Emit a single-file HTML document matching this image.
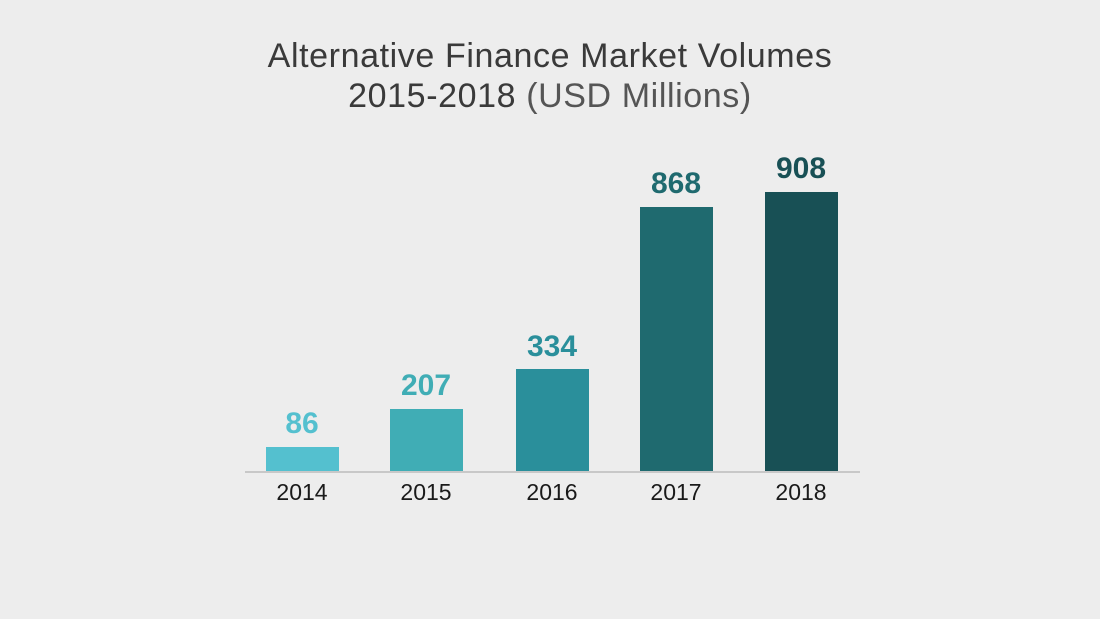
<!DOCTYPE html>
<html><head><style>
body{margin:0;width:1100px;height:619px;background:#ededed;font-family:"Liberation Sans",sans-serif;position:relative;overflow:hidden}
.t{position:absolute;left:0;width:1100px;text-align:center;color:#3a3a3a;font-size:34px;letter-spacing:0.6px}
.b{position:absolute;width:73px}
.v{position:absolute;width:120px;text-align:center;font-weight:bold;font-size:30px}
.y{position:absolute;width:120px;text-align:center;font-size:23px;color:#1a1a1a;top:479px}
</style></head><body>
<div class="t" style="top:37px">Alternative Finance Market Volumes</div>
<div class="t" style="top:77px">2015-2018 <span style="color:#555">(USD Millions)</span></div>
<div style="position:absolute;left:245px;top:471px;width:615px;height:2px;background:#c8c8c8"></div>
<div class="b" style="left:266px;top:447px;height:24px;background:#54c0cf"></div>
<div class="b" style="left:390px;top:409px;height:62px;background:#40adb5"></div>
<div class="b" style="left:516px;top:369px;height:102px;background:#2a8f9b"></div>
<div class="b" style="left:640px;top:207px;height:264px;background:#1f6a6f"></div>
<div class="b" style="left:765px;top:192px;height:279px;background:#185055"></div>
<div class="v" style="left:242px;top:407px;color:#54c0cf">86</div>
<div class="v" style="left:366px;top:369px;color:#40adb5">207</div>
<div class="v" style="left:492px;top:330px;color:#2a8f9b">334</div>
<div class="v" style="left:616px;top:167px;color:#1f6a6f">868</div>
<div class="v" style="left:741px;top:152px;color:#185055">908</div>
<div class="y" style="left:242px">2014</div>
<div class="y" style="left:366px">2015</div>
<div class="y" style="left:492px">2016</div>
<div class="y" style="left:616px">2017</div>
<div class="y" style="left:741px">2018</div>
</body></html>
